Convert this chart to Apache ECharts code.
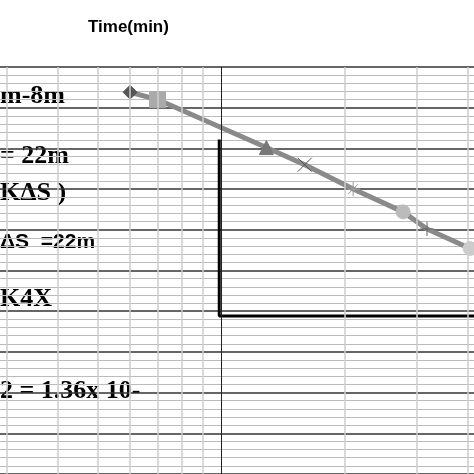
<!DOCTYPE html><html><head><meta charset="utf-8"><script src="https://cdn.jsdelivr.net/npm/echarts@6/dist/echarts.min.js"></script>
<style>html,body{margin:0;background:#fff}#c{width:474px;height:474px}</style></head><body><div id="c"></div><script>
const times=[6.0,7.0,12.9,16.0,21.0,27.8,31.8,40.5];
const values=[46.9,46.0,40.1,38.0,35.0,32.2,30.1,27.7];
const symbols=['diamond','rect','triangle','x','star','circle','plus','circle'];
const symbolColors=['#555','#aaa','#777','#555','#999','#bbb','#666','#ccc'];
const minorTimes=[3,4,5,6,7,8,9,20,30,40];
const majorTimes=[10];
const lShapeX=[9.9,9.9,60];const lShapeY=[41.1,19.4,19.4];
const notes=[['m-8m',97,'serif'],['= 22m',157,'serif'],['KΔS )',194,'serif'],['ΔS  =22m',246,'sans-serif'],['K4X',300,'serif'],['2 = 1.36x 10-',392,'serif']];
const paths={x:'path://M0,0L10,10M10,0L0,10',star:'path://M5,0L5,10M0,5L10,5M1.5,1.5L8.5,8.5M8.5,1.5L1.5,8.5',plus:'path://M5,0L5,10M0,5L10,5'};
const c=echarts.init(document.getElementById('c'));
c.setOption({animation:false,
grid:{left:0,right:0,top:67,bottom:-3},
xAxis:{type:'log',min:2.89,max:41.4,logBase:10,axisLabel:{show:false},axisTick:{show:false},axisLine:{show:false},splitLine:{show:false}},
yAxis:{type:'value',min:0,max:50,interval:5,axisLabel:{show:false},axisLine:{show:false},axisTick:{show:false},splitLine:{lineStyle:{color:'#333',width:1.5}},minorTick:{show:false,splitNumber:5},minorSplitLine:{show:true,lineStyle:{color:'#bbb',width:1}}},
series:[
{type:'line',silent:true,data:[],markLine:{symbol:'none',label:{show:false},lineStyle:{color:'#ccc',width:1.5,type:'solid'},data:minorTimes.map(t=>({xAxis:t}))}},
{type:'line',silent:true,data:[],markLine:{symbol:'none',label:{show:false},lineStyle:{color:'#222',width:1,type:'solid'},data:majorTimes.map(t=>({xAxis:t}))}},
{type:'line',data:lShapeX.map((x,i)=>[x,lShapeY[i]]),symbol:'none',lineStyle:{color:'#000',width:3}},
{type:'line',data:times.map((t,i)=>({value:[t,values[i]],symbol:paths[symbols[i]]||symbols[i],symbolSize:symbols[i]==='rect'?16:14,itemStyle:{color:symbolColors[i],borderColor:symbolColors[i],borderWidth:1}})),lineStyle:{color:'#8a8a8a',width:5}}
],
graphic:[{type:'text',left:88,top:19,style:{text:'Time(min)',font:'bold 17px "Liberation Sans"',fill:'#000'}}].concat(notes.map(n=>({type:'text',left:0,top:n[1]-14,style:{text:n[0],font:n[2]==='serif'?'bold 26px "Liberation Serif"':'bold 21px "Liberation Sans"',fill:'#000'}})))
});
</script></body></html>
